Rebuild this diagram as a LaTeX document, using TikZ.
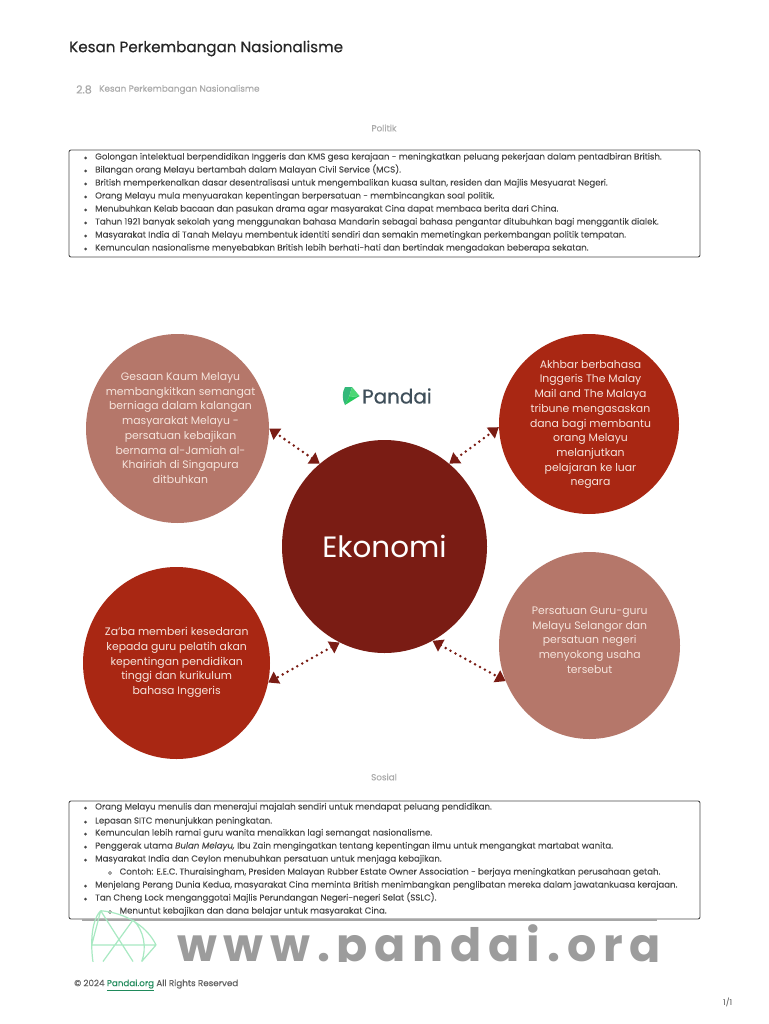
\documentclass[tikz,border=0pt]{standalone}
\usepackage{fontspec}
\setmainfont{Poppins}
\newfontfamily\medf[FakeBold=0.25]{Poppins}
\newfontfamily\lightbold[FakeBold=0.08]{Poppins}
\newfontfamily\brandf[FakeBold=0.6]{Poppins}
\newfontfamily\wmf[LetterSpace=14.8]{Poppins}
\usetikzlibrary{shapes.geometric,arrows.meta}
\definecolor{rosec}{HTML}{B5776A}
\definecolor{redc}{HTML}{A92713}
\definecolor{darkc}{HTML}{7A1C14}
\definecolor{bodyc}{HTML}{484848}
\definecolor{greyc}{HTML}{ABABAB}
\definecolor{wmc}{HTML}{9C9C9C}
\definecolor{logoc}{HTML}{A8E9C2}
\definecolor{slatec}{HTML}{3F4F5A}
\definecolor{linkc}{HTML}{1F8A5B}
\definecolor{pale}{HTML}{F6E4DC}
\tikzset{
  blob/.style={ellipse,inner sep=0pt,minimum width=#1},
  circletext/.style={align=center,text=pale,inner sep=0pt,font=\fontsize{10.85}{14.7}\selectfont},
  linktip/.style={line width=2.8pt,darkc,dash pattern=on 0pt off 5.6pt,line cap=round,
    {Triangle[length=10pt,width=13pt,fill=darkc]}-{Triangle[length=10pt,width=13pt,fill=darkc]}},
  listline/.style={anchor=west,inner sep=0pt,text=bodyc,text height=6pt,text depth=3pt,font=\lightbold\fontsize{8.6}{10}\selectfont},
  listbox/.style={draw=black!70,line width=0.9pt,rounded corners=2pt,inner sep=0pt},
  heading/.style={text=greyc,inner sep=0pt,font=\medf\fontsize{8.8}{10}\selectfont},
}
\newcommand{\mainrow}[2]{\fill[bodyc] (85.5,#1) circle (1.5);\node[listline] (m#1) at (95,#1) {#2};}
\newcommand{\subrow}[2]{\draw[bodyc,line width=0.6pt] (110,#1) circle (1.5);\node[listline] (s#1) at (119.5,#1) {#2};}
\begin{document}
\begin{tikzpicture}[x=1pt,y=-1pt]
\useasboundingbox (0,0) rectangle (768,1024);
\fill[white] (0,0) rectangle (768,1024);
% header
\node[anchor=west,inner sep=0pt,text=black!85,font=\medf\fontsize{15.15}{18}\selectfont] (title) at (69,48.5) {Kesan Perkembangan Nasionalisme};
\node[anchor=west,inner sep=0pt,text=greyc,font=\medf\fontsize{11}{13}\selectfont] (num) at (76,89.5) {2.8};
\node[anchor=west,inner sep=0pt,text=greyc,font=\medf\fontsize{8.87}{10}\selectfont] (sect) at (99,89.5) {Kesan Perkembangan Nasionalisme};
\node[heading] (politik) at (384,128) {Politik};
% politik box
\node[listbox,minimum width=631pt,minimum height=107pt] (pbox) at (384.5,203.5) {};
\mainrow{158}{Golongan intelektual berpendidikan Inggeris dan KMS gesa kerajaan - meningkatkan peluang pekerjaan dalam pentadbiran British.}
\mainrow{171}{Bilangan orang Melayu bertambah dalam Malayan Civil Service (MCS).}
\mainrow{184}{British memperkenalkan dasar desentralisasi untuk mengembalikan kuasa sultan, residen dan Majlis Mesyuarat Negeri.}
\mainrow{197}{Orang Melayu mula menyuarakan kepentingan berpersatuan - membincangkan soal politik.}
\mainrow{210}{Menubuhkan Kelab bacaan dan pasukan drama agar masyarakat Cina dapat membaca berita dari China.}
\mainrow{223}{Tahun 1921 banyak sekolah yang menggunakan bahasa Mandarin sebagai bahasa pengantar ditubuhkan bagi menggantik dialek.}
\mainrow{236}{Masyarakat India di Tanah Melayu membentuk identiti sendiri dan semakin memetingkan perkembangan politik tempatan.}
\mainrow{249}{Kemunculan nasionalisme menyebabkan British lebih berhati-hati dan bertindak mengadakan beberapa sekatan.}
% circles
\node[blob=183pt,minimum height=189pt,fill=rosec] (tl) at (177.5,428.5) {};
\node[blob=180pt,minimum height=180pt,fill=redc] (tr) at (589,424) {};
\node[blob=187pt,minimum height=192pt,fill=redc] (bl) at (176.5,663) {};
\node[blob=181pt,minimum height=187pt,fill=rosec] (br) at (589.5,645.5) {};
\node[blob=205pt,minimum height=213pt,fill=darkc] (cc) at (384.5,546.5) {};
\node[circletext] (tlt) at (180.5,428) {Gesaan Kaum Melayu\\membangkitkan semangat\\berniaga dalam kalangan\\masyarakat Melayu -\\persatuan kebajikan\\bernama al-Jamiah al-\\Khairiah di Singapura\\ditbuhkan};
\node[circletext] (trt) at (590.5,424.5) {Akhbar berbahasa\\Inggeris The Malay\\Mail and The Malaya\\tribune mengasaskan\\dana bagi membantu\\orang Melayu\\melanjutkan\\pelajaran ke luar\\negara};
\node[circletext] (blt) at (176.7,662.5) {Za'ba memberi kesedaran\\kepada guru pelatih akan\\kepentingan pendidikan\\tinggi dan kurikulum\\bahasa Inggeris};
\node[circletext] (brt) at (589.7,640) {Persatuan Guru-guru\\Melayu Selangor dan\\persatuan negeri\\menyokong usaha\\tersebut};
\node[inner sep=0pt,text=white,font=\fontsize{29.4}{32}\selectfont] (ek) at (384.5,546) {Ekonomi};
% connectors
\draw[linktip] (cc.128) -- (tl.0);
\draw[linktip] (cc.52.5) -- (tr.182);
\draw[linktip] (cc.245.7) -- (bl.-12.3);
\draw[linktip] (cc.-63) -- (br.203);
% Pandai logo
\fill[teal!70!green!80] (345,387) -- (352,387) -- (349,397) -- (345,405) .. controls (342,400) and (342,392) .. cycle;
\fill[green!55!teal!70] (352,387) -- (359.5,396) -- (349,397) -- cycle;
\fill[green!50!teal!85] (349,397) -- (359.5,396) -- (345,405) -- cycle;
\node[anchor=west,inner sep=0pt,text=slatec,font=\brandf\fontsize{19.9}{22}\selectfont] (brand) at (362,396) {Pandai};
% sosial
\node[heading] (sosial) at (384,777) {Sosial};
\node[listbox,minimum width=631pt,minimum height=118pt] (sbox) at (384.5,860) {};
\mainrow{808}{Orang Melayu menulis dan menerajui majalah sendiri untuk mendapat peluang pendidikan.}
\mainrow{822}{Lepasan SITC menunjukkan peningkatan.}
\mainrow{834}{Kemunculan lebih ramai guru wanita menaikkan lagi semangat nasionalisme.}
\mainrow{847}{Penggerak utama \itshape Bulan Melayu, \upshape Ibu Zain mengingatkan tentang kepentingan ilmu untuk mengangkat martabat wanita.}
\mainrow{860}{Masyarakat India dan Ceylon menubuhkan persatuan untuk menjaga kebajikan.}
\subrow{873}{Contoh: E.E.C. Thuraisingham, Presiden Malayan Rubber Estate Owner Association - berjaya meningkatkan perusahaan getah.}
\mainrow{886}{Menjelang Perang Dunia Kedua, masyarakat Cina meminta British menimbangkan penglibatan mereka dalam jawatankuasa kerajaan.}
\mainrow{899}{Tan Cheng Lock menganggotai Majlis Perundangan Negeri-negeri Selat (SSLC).}
\subrow{912}{Menuntut kebajikan dan dana belajar untuk masyarakat Cina.}
% watermark
\draw[black!35,line width=1.2pt] (82,920) -- (657,920);
\begin{scope}
\clip (80,905) rectangle (665,961.5);
\draw[logoc,line width=1.2pt,line join=round]
  (91.7,945) -- (156,945)
  (100.7,910.7) -- (133,961.5)
  (133,920) -- (103,961.5)
  (156,945) -- (141.7,961.5)
  (100.7,910.7) -- (91.7,945)
  (100.7,910.7) .. controls (128,913) and (148,928) .. (156,945)
  (100.7,910.7) .. controls (90,922) and (91,948) .. (93,962)
  (133,920) .. controls (144,930) and (147,948) .. (141.7,961.5);
\node[anchor=base west,inner sep=0pt,text=wmc,font=\wmf\bfseries\fontsize{46}{50}\selectfont] (wm) at (177,961.5) {www.pandai.org};
\end{scope}
% footer
\node[anchor=west,inner sep=0pt,text=black!62,font=\lightbold\fontsize{8.75}{10}\selectfont] (foot) at (74,985) {© 2024 \textcolor{linkc}{\underline{Pandai.org}} All Rights Reserved};
\node[anchor=west,inner sep=0pt,text=black!70,font=\fontsize{8}{10}\selectfont] (pg) at (723,1002) {1/1};
\end{tikzpicture}
\end{document}
